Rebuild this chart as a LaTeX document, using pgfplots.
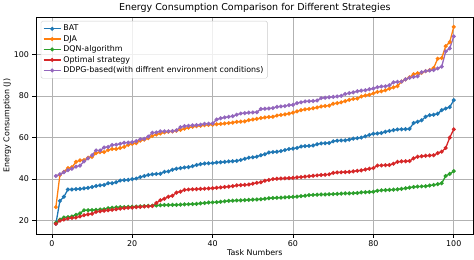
\documentclass[border=0pt]{standalone}
\usepackage{pgfplots}
\pgfplotsset{compat=1.18}
\usepackage{pgfplotstable}
\usepackage{fontspec}
\setmainfont{DejaVu Sans}
\definecolor{c0}{HTML}{1F77B4}
\definecolor{c1}{HTML}{FF7F0E}
\definecolor{c2}{HTML}{2CA02C}
\definecolor{c3}{HTML}{D62728}
\definecolor{c4}{HTML}{9467BD}
\pgfplotstableread{
x bat dja dqn opt ddpg
1 18.5 26.5 19.0 18.5 41.5
2 29.5 42.0 20.5 20.0 42.3
3 31.5 43.5 21.5 20.5 43.3
4 35.0 45.3 21.7 21.0 44.3
5 35.0 45.7 22.0 21.3 45.0
6 35.2 48.3 22.8 21.5 46.0
7 35.3 49.0 23.5 22.0 46.5
8 35.5 49.2 25.0 22.6 48.5
9 35.8 50.3 25.0 23.0 50.0
10 36.2 50.7 25.1 23.3 51.5
11 36.7 52.5 25.2 24.2 53.8
12 37.0 53.0 25.4 24.5 53.8
13 37.2 53.0 25.5 24.8 55.2
14 38.0 54.0 26.0 25.0 55.5
15 38.0 54.5 26.2 25.2 56.4
16 38.5 54.5 26.4 25.5 56.6
17 39.3 55.0 26.5 25.8 57.0
18 39.5 55.5 26.5 26.0 57.5
19 39.6 56.5 26.6 26.2 57.6
20 40.0 57.0 26.7 26.3 57.8
21 40.3 57.3 26.8 26.5 58.3
22 41.0 58.5 26.9 26.6 59.2
23 41.5 59.0 27.0 26.8 59.4
24 42.0 59.7 27.1 26.9 60.5
25 42.3 60.8 27.2 27.0 62.3
26 42.5 61.5 27.3 28.5 62.5
27 42.6 62.0 27.4 29.8 63.0
28 43.5 62.5 27.5 30.5 63.0
29 43.7 62.8 27.5 31.5 63.0
30 44.5 63.0 27.6 32.0 63.1
31 45.0 63.3 27.6 33.5 63.5
32 45.3 63.7 27.7 34.0 65.0
33 45.6 64.3 27.8 34.8 65.5
34 45.8 64.8 27.9 35.0 65.7
35 46.2 65.2 28.0 35.1 65.9
36 46.8 65.5 28.1 35.2 66.0
37 47.2 65.7 28.3 35.3 66.2
38 47.5 66.0 28.5 35.4 66.6
39 47.6 66.1 28.7 35.5 66.7
40 47.7 66.2 28.8 35.6 66.8
41 48.0 66.4 28.9 35.8 68.7
42 48.1 66.6 29.1 36.0 69.3
43 48.3 66.8 29.3 36.2 69.7
44 48.5 67.0 29.5 36.4 70.0
45 48.6 67.2 29.6 36.6 70.3
46 48.8 67.6 29.7 37.0 71.0
47 49.2 67.7 29.8 37.1 71.6
48 49.8 67.8 29.9 37.2 71.8
49 50.3 68.4 30.0 37.4 72.0
50 50.5 68.7 30.1 37.8 72.1
51 50.8 69.0 30.2 38.2 72.2
52 51.5 69.4 30.3 38.5 73.8
53 52.0 69.7 30.5 39.2 73.9
54 52.8 69.9 30.8 39.6 74.0
55 53.0 70.0 30.9 40.0 74.2
56 53.2 70.6 31.0 40.2 74.8
57 53.5 70.9 31.1 40.3 75.0
58 54.0 71.2 31.2 40.4 75.2
59 54.5 71.5 31.3 40.5 75.6
60 54.7 72.0 31.4 40.6 75.8
61 55.0 72.6 31.6 40.8 76.6
62 55.7 73.2 31.8 41.0 77.0
63 55.9 73.6 32.0 41.2 77.4
64 56.0 73.8 32.3 41.4 77.5
65 56.2 74.1 32.4 41.6 77.6
66 56.8 74.5 32.5 41.8 77.9
67 57.2 75.0 32.6 42.0 79.0
68 57.3 75.2 32.6 42.1 79.2
69 57.4 75.4 32.7 42.3 79.4
70 58.2 76.3 32.8 43.0 79.6
71 58.5 76.6 32.9 43.2 79.8
72 58.6 77.0 33.0 43.3 80.1
73 58.7 77.6 33.1 43.4 81.0
74 59.0 78.2 33.1 43.5 81.4
75 59.5 78.6 33.2 43.7 81.8
76 59.7 78.8 33.3 44.0 82.3
77 60.0 79.8 33.6 44.2 82.6
78 60.6 80.3 33.7 44.6 82.8
79 61.3 80.6 33.8 45.0 83.3
80 61.8 81.3 33.9 45.3 83.6
81 62.0 82.0 34.4 46.5 84.3
82 62.2 82.3 34.6 46.6 84.6
83 62.8 82.8 34.7 46.7 84.7
84 63.2 83.6 34.8 46.8 85.2
85 63.6 84.2 34.9 47.4 86.6
86 63.9 84.8 35.1 48.3 86.8
87 64.0 87.0 35.3 48.5 87.0
88 64.1 88.0 35.6 48.6 88.0
89 64.2 89.0 35.9 48.7 88.8
90 67.0 90.5 36.2 50.0 89.2
91 67.6 91.0 36.4 50.8 89.5
92 68.3 91.2 36.5 51.0 91.5
93 70.0 92.0 36.6 51.2 92.0
94 70.8 92.5 36.9 51.4 92.3
95 71.0 93.5 37.2 51.5 92.5
96 71.5 98.0 37.6 52.5 93.3
97 73.2 98.3 38.0 53.2 94.2
98 74.0 104.0 41.5 55.0 101.5
99 74.7 106.0 42.5 60.0 103.0
100 78.0 113.3 43.8 64.0 108.7
}\data
\begin{document}
\begin{tikzpicture}
\begin{axis}[
  scale only axis,
  width=435.7bp, height=216bp,
  xmin=-3.95, xmax=104.95, ymin=13.55, ymax=118.05,
  xtick={0,20,40,60,80,100}, ytick={20,40,60,80,100},
  tick align=outside, tick pos=left,
  major tick length=3.5bp,
  grid=major,
  major grid style={draw=black!30, line width=0.7bp},
  axis line style={line width=0.7bp},
  tick style={line width=0.7bp, black},
  ticklabel style={font=\fontsize{7.9}{9}\selectfont},
  /pgf/number format/assume math mode=true,
  xlabel={Task Numbers}, ylabel={Energy Consumption (J)},
  label style={font=\fontsize{7.9}{9}\selectfont},
  xlabel style={yshift=4bp},
  ylabel style={yshift=-4bp},
  title={Energy Consumption Comparison for Different Strategies},
  title style={font=\fontsize{9.5}{11}\selectfont, yshift=-5bp},
  legend style={font=\fontsize{7.9}{9}\selectfont, draw=black!20, fill=white, fill opacity=0.8, text opacity=1, rounded corners=1.5bp, at={(0.011,0.982)}, anchor=north west, row sep=-1bp, inner sep=2bp},
  legend cell align=left,
  every axis plot/.append style={line width=1.3bp, mark=*, mark size=1.3bp},
]
\addplot[c0, mark options={fill=c0}] table[x=x,y=bat]{\data};
\addlegendentry{BAT}
\addplot[c1, mark options={fill=c1}] table[x=x,y=dja]{\data};
\addlegendentry{DJA}
\addplot[c2, mark options={fill=c2}] table[x=x,y=dqn]{\data};
\addlegendentry{DQN-algorithm}
\addplot[c3, mark options={fill=c3}] table[x=x,y=opt]{\data};
\addlegendentry{Optimal strategy}
\addplot[c4, mark options={fill=c4}] table[x=x,y=ddpg]{\data};
\addlegendentry{DDPG-based(with diffrent environment conditions)}
\end{axis}
\end{tikzpicture}
\end{document}
